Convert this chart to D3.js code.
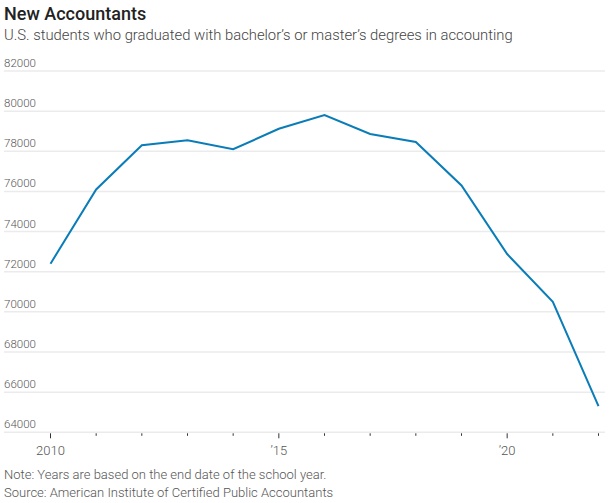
<!DOCTYPE html>
<html lang="en">
<head>
    <meta charset="UTF-8">
    <title>New Accountants</title>
    <script src="https://d3js.org/d3.v7.min.js"></script>
    <style type="text/css">
        body { margin: 0; background: white; }
        svg text { font-family: Roboto, "Noto Sans", sans-serif; }
        .title { font-size: 18px; font-weight: 500; fill: #222; }
        .subtitle { font-size: 14.8px; font-weight: 300; fill: #444; }
        .foot { font-size: 13px; font-weight: 300; fill: #555; }
        .ylab { font-size: 11.5px; font-weight: 300; fill: #555; }
        .xlab { font-size: 13px; font-weight: 300; fill: #555; }
    </style>
</head>
<body>
<script type="text/javascript">

    // school years (end year) and graduates
    const years = [2010, 2011, 2012, 2013, 2014, 2015, 2016, 2017, 2018, 2019, 2020, 2021, 2022];
    const graduates = [72400, 76100, 78300, 78550, 78100, 79120, 79810, 78860, 78460, 76300, 72880, 70500, 65300];
    const yTicks = [64000, 66000, 68000, 70000, 72000, 74000, 76000, 78000, 80000, 82000];
    const xLabels = { 2010: "2010", 2015: "\u201915", 2020: "\u201920" };

    const width = 613, height = 503;
    const svg = d3.select("body").append("svg")
        .attr("width", width)
        .attr("height", height);

    svg.append("text").attr("class", "title").attr("x", 4).attr("y", 20).text("New Accountants");
    svg.append("text").attr("class", "subtitle").attr("x", 4).attr("y", 40)
        .text("U.S. students who graduated with bachelor\u2019s or master\u2019s degrees in accounting");

    const x = d3.scaleLinear().domain([2010, 2022]).range([50.5, 598.5]);
    const y = d3.scaleLinear().domain([64000, 82000]).range([432.3, 71]);

    // gridlines + labels
    const grid = svg.append("g");
    grid.selectAll("line").data(yTicks).enter().append("line")
        .attr("x1", 4).attr("x2", 605)
        .attr("y1", d => y(d)).attr("y2", d => y(d))
        .attr("stroke", "#ebebeb")
        .attr("stroke-width", 1.5);
    grid.selectAll("text").data(yTicks).enter().append("text")
        .attr("class", "ylab")
        .attr("x", 4).attr("y", d => y(d) - 4)
        .text(d => d);

    // x axis ticks
    const xa = svg.append("g");
    xa.selectAll("line").data(years).enter().append("line")
        .attr("x1", d => x(d)).attr("x2", d => x(d))
        .attr("y1", y(64000) + 1)
        .attr("y2", d => y(64000) + (xLabels[d] ? 6 : 3.5))
        .attr("stroke", "#333")
        .attr("stroke-width", 1);
    xa.selectAll("text").data(years.filter(d => xLabels[d])).enter().append("text")
        .attr("class", "xlab")
        .attr("x", d => x(d)).attr("y", 455)
        .attr("text-anchor", "middle")
        .text(d => xLabels[d]);

    const line = d3.line()
        .x((d, i) => x(years[i]))
        .y(d => y(d));

    svg.append("path")
        .datum(graduates)
        .attr("d", line)
        .attr("fill", "none")
        .attr("stroke", "#0a7db8")
        .attr("stroke-width", 2);

    svg.append("text").attr("class", "foot").attr("x", 4).attr("y", 479)
        .text("Note: Years are based on the end date of the school year.");
    svg.append("text").attr("class", "foot").attr("x", 4).attr("y", 497)
        .text("Source: American Institute of Certified Public Accountants");

</script>
</body>
</html>
